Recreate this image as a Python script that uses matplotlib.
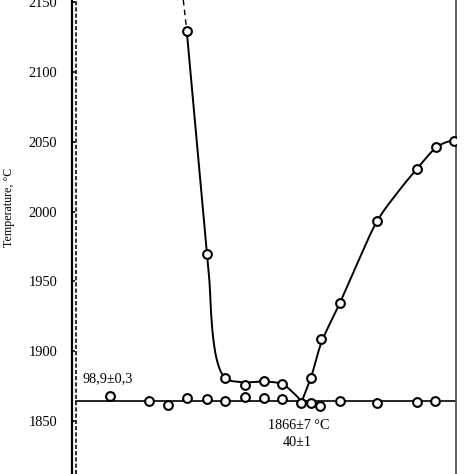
import numpy as np
import matplotlib.pyplot as plt

plt.rcParams['font.family'] = ['Liberation Serif', 'DejaVu Serif']

# composition axis runs from 100 (left) to 0 (right), temperature in °C
liq_left_x = [70.05, 64.75, 60.05, 55.0, 50.05, 45.25]
liq_left_t = [2129.6, 1969.6, 1880.6, 1875.6, 1878.7, 1876.3]
liq_right_x = [37.7, 35.1, 30.2, 20.4, 10.2, 5.2, 0.45]
liq_right_t = [1881, 1908.5, 1934.3, 1993.5, 2030.3, 2046.1, 2050.8]
sol_x = [89.9, 80.0, 74.9, 69.9, 64.8, 60.05, 55.0, 50.05, 45.25, 40.2,
         37.7, 35.25, 30.2, 20.4, 10.2, 5.3]
sol_t = [1867.9, 1864.3, 1861.2, 1866.7, 1866.0, 1864.3, 1867.4, 1866.7,
         1865.6, 1863.1, 1862.7, 1861.0, 1864.3, 1862.7, 1863.8, 1864.5]

# hand drawn liquidus curves (vertices)
curve_left_x = [70.05, 64.75, 64.15, 63.7, 63.1, 62.2, 61.17, 60.05, 58.3,
                57.0, 55.0, 50.05, 45.25, 42.6, 40.1]
curve_left_t = [2129.6, 1969.6, 1951.0, 1927.1, 1908.0, 1893.7, 1885.3,
                1880.8, 1878.6, 1878.2, 1877.6, 1878.2, 1876.5, 1871.0, 1864.0]
curve_right_x = [40.1, 37.6, 35.0, 30.2, 25.2, 20.4, 15.2, 10.2, 5.2, 2.6, 0]
curve_right_t = [1864.0, 1882, 1906, 1934.3, 1965.5, 1993.5, 2013.5, 2030.3,
                 2045.6, 2049.6, 2051.3]
dash_x = [70.94, 70.05]
dash_t = [2151.6, 2129.6]
solvus_x = 98.9
eutectic_t = 1864.5


def smooth(xs, ys, n=20, sx=3.83, sy=1.396):
    """Centripetal Catmull-Rom line through the curve vertices."""
    pts = np.column_stack([np.asarray(xs) * sx, np.asarray(ys) * sy])
    p = np.vstack([2 * pts[0] - pts[1], pts, 2 * pts[-1] - pts[-2]])
    out = []
    for i in range(1, len(p) - 2):
        p0, p1, p2, p3 = p[i - 1], p[i], p[i + 1], p[i + 2]
        t0 = 0.0
        t1 = t0 + np.linalg.norm(p1 - p0) ** 0.5
        t2 = t1 + np.linalg.norm(p2 - p1) ** 0.5
        t3 = t2 + np.linalg.norm(p3 - p2) ** 0.5
        t = np.linspace(t1, t2, n, endpoint=False)[:, None]
        a1 = (t1 - t) / (t1 - t0) * p0 + (t - t0) / (t1 - t0) * p1
        a2 = (t2 - t) / (t2 - t1) * p1 + (t - t1) / (t2 - t1) * p2
        a3 = (t3 - t) / (t3 - t2) * p2 + (t - t2) / (t3 - t2) * p3
        b1 = (t2 - t) / (t2 - t0) * a1 + (t - t0) / (t2 - t0) * a2
        b2 = (t3 - t) / (t3 - t1) * a2 + (t - t1) / (t3 - t1) * a3
        out.append((t2 - t) / (t2 - t1) * b1 + (t - t1) / (t2 - t1) * b2)
    out.append(pts[-1:])
    s = np.vstack(out)
    return s[:, 0] / sx, s[:, 1] / sy


fig = plt.figure(figsize=(4.74, 4.74), dpi=100)
ax = fig.add_axes([0.1513, 0.0, 0.8101, 1.0])

ax.axvline(solvus_x, color='#333333', lw=1.5, dashes=(2, 1))
ax.plot([solvus_x, 0], [eutectic_t, eutectic_t], color='black', lw=1.2)
ax.plot(*smooth(curve_left_x, curve_left_t), color='black', lw=1.4)
ax.plot(*smooth(curve_right_x, curve_right_t), color='black', lw=1.4)
ax.plot(dash_x, dash_t, color='black', lw=1.0, dashes=(4, 3))

mk = dict(ls='none', marker='o', ms=6.3, mew=1.5, mec='black', mfc='white', zorder=3)
ax.plot(sol_x, sol_t, **mk)
ax.plot(liq_left_x, liq_left_t, **mk)
ax.plot(liq_right_x, liq_right_t, **mk)

ax.text(90.6, 1880.1, '98,9±0,3', fontsize=10.2, ha='center', va='center')
ax.text(41.0, 1847.1, '1866±7 °C', fontsize=10.2, ha='center', va='center')
ax.text(41.3, 1834.5, '40±1', fontsize=10.2, ha='center', va='center')

ax.set_xlim(100, 0)
ax.set_ylim(1812, 2151.6)
ax.set_yticks([1850, 1900, 1950, 2000, 2050, 2100, 2150])
ax.tick_params(axis='y', direction='in', length=2.5, width=1.2, pad=10.5,
               labelsize=10.4)
ax.set_xticks([])
ax.set_ylabel('Temperature, °C', fontsize=8.6)
ax.yaxis.set_label_coords(-0.147, 0.563)

ax.spines['top'].set_visible(False)
ax.spines['bottom'].set_visible(False)
ax.spines['left'].set_linewidth(1.6)
ax.spines['right'].set_color('#555555')
ax.spines['right'].set_linewidth(1.3)

fig.savefig('out.png', dpi=100)
